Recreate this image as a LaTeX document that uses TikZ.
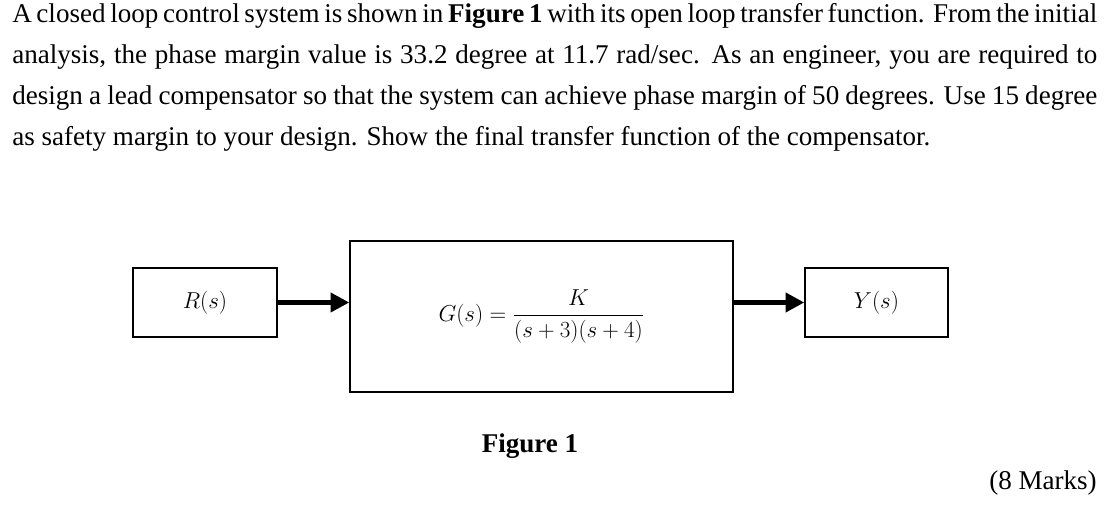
\documentclass[tikz,border=0pt]{standalone}
\usepackage{amsmath}
\usepackage{fontspec}
\setmainfont{Liberation Serif}
\usetikzlibrary{arrows.meta}
\begin{document}
\begin{tikzpicture}[x=0.75pt,y=-0.75pt,
  blk/.style={draw,line width=1pt,inner sep=0pt},
  flow/.style={line width=4pt,-{Triangle[length=14pt,width=14pt]}}]
\useasboundingbox (0,0) rectangle (1114,509);
\node[anchor=north west,inner sep=0pt,text width=1085*0.75pt,align=justify] (txt) at (12,3)
 {\fontsize{20.3}{30.8}\selectfont A closed loop control system is shown in \textbf{Figure 1} with its open loop transfer
 function. From the initial analysis, the phase margin value is 33.2 degree at 11.7
 rad/sec. As an engineer, you are required to design a lead compensator so that the
 system can achieve phase margin of 50 degrees. Use 15 degree as safety margin to
 your design. Show the final transfer function of the compensator.\par};
\node[blk,minimum width=144*0.75pt,minimum height=69*0.75pt] (r) at (205,302.5) {\fontsize{18}{20}\selectfont $R(s)$};
\node[blk,minimum width=383*0.75pt,minimum height=151*0.75pt] (g) at (541.5,316.5) {\fontsize{18}{20}\selectfont $G(s)=\dfrac{K}{(s+3)(s+4)}$};
\node[blk,minimum width=143*0.75pt,minimum height=69*0.75pt] (y) at (876.5,302.5) {\fontsize{18}{20}\selectfont $Y(s)$};
\draw[flow] (r.east) -- (r.east -| g.west);
\draw[flow] (g.east |- y.west) -- (y.west);
\node[font=\bfseries\fontsize{20.3}{24}\selectfont] (fig) at (530,446) {Figure 1};
\node[anchor=east,inner sep=0pt,font=\fontsize{20.3}{24}\selectfont] (marks) at (1097,483) {(8 Marks)};
\end{tikzpicture}
\end{document}
